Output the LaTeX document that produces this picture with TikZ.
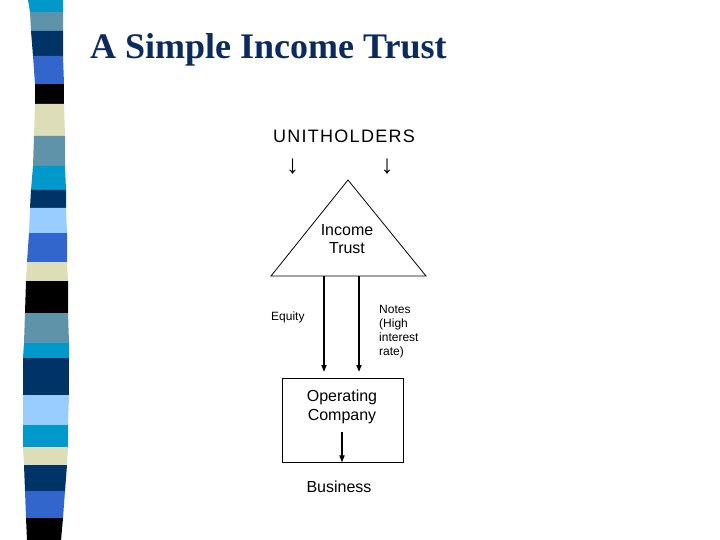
\documentclass[tikz,border=0pt]{standalone}
\usepackage{fontspec}
\setmainfont{Liberation Serif}
\newfontfamily\arialf{Liberation Sans}
\usetikzlibrary{arrows.meta}
\definecolor{stcyan}{HTML}{0099CC}
\definecolor{ststeel}{HTML}{5F93AA}
\definecolor{stnavy}{HTML}{003366}
\definecolor{stroyal}{HTML}{3366CC}
\definecolor{stbeige}{HTML}{DDDDB8}
\definecolor{stlight}{HTML}{99CCFF}
\definecolor{titlecol}{HTML}{0B2B5E}
\tikzset{
  lbl/.style={font=\arialf\fontsize{16}{18.5}\selectfont, inner sep=0pt, align=center},
  small/.style={font=\arialf\fontsize{12}{14}\selectfont, inner sep=0pt, align=left},
  downglyph/.style={inner sep=0pt, font=\arialf\fontsize{26}{28}\selectfont},
  conn/.style={line width=1.6pt, -{Triangle[length=7pt,width=5pt]}},
  thin/.style={line width=0.8pt}
}
\begin{document}
\begin{tikzpicture}[x=1pt,y=-1pt]
\useasboundingbox (0,0) rectangle (720,540);
\fill[white] (0,0) rectangle (720,540);
% left stripe
\foreach \ya/\la/\ra/\yb/\lb/\rb/\c in {
  0/28/63/12/30/63/stcyan,
  12/30/63/31/31/63/ststeel,
  31/31/63/56/33/63/stnavy,
  56/33/63/84/35/64/stroyal,
  84/35/64/104/35/64/black,
  104/35/64/136/34/65/stbeige,
  136/34/65/166/33/65/ststeel,
  166/33/65/190/31/66/stcyan,
  190/31/66/208/30/66/stnavy,
  208/30/66/233/29/67/stlight,
  233/29/67/262/27/67/stroyal,
  262/27/67/281/26/68/stbeige,
  281/26/68/313/25/68/black,
  313/25/68/343/24/69/ststeel,
  343/24/69/358/23/69/stcyan,
  358/23/69/395/23/69/stnavy,
  395/23/69/425/23/68/stlight,
  425/23/68/447/23/68/stcyan,
  447/23/68/465/24/67/stbeige,
  465/24/67/491/25/65/stnavy,
  491/25/65/518/26/63/stroyal,
  518/26/63/540/27/61/black}
  {\fill[\c] (\la,\ya) -- (\ra,\ya) -- (\rb,\yb) -- (\lb,\yb) -- cycle;}
% title
\node[anchor=base west, inner sep=0pt, text=titlecol,
      font=\bfseries\fontsize{36}{40}\selectfont] (title) at (90,59) {A Simple Income Trust};
% unitholders
\node[anchor=base, inner sep=0pt, font=\arialf\fontsize{18}{20}\selectfont\addfontfeature{LetterSpace=7}] (unit) at (344,143) {UNITHOLDERS};
\node[downglyph] (arrl) at (292.5,167) {↓};
\node[downglyph] (arrr) at (387,167) {↓};
% triangle
\coordinate (apex) at (348,180);
\coordinate (bl) at (271,276);
\coordinate (br) at (426,276);
\draw[thin] (apex) -- (bl) -- (br) -- cycle;
\node[lbl] (trust) at (347,239) {Income\\Trust};
% operating company box
\node[draw, thin, minimum width=121pt, minimum height=84pt, inner sep=0pt] (opco) at (342.5,420) {};
\node[lbl] (optext) at (342,407) {Operating\\Company};
% arrows
\coordinate (eqs) at (324,276);
\coordinate (nts) at (359,276);
\draw[conn] (eqs) -- ++(0,96);
\draw[conn] (nts) -- ++(0,96);
\coordinate (bizs) at (342,432);
\draw[conn] (bizs) -- (bizs |- opco.south);
% labels
\node[small, anchor=base west] (equity) at (271,320) {Equity};
\node[small, anchor=west] (notes) at (379,332) {Notes\\(High\\interest\\rate)};
\node[lbl, anchor=base] (biz) at (339,492) {Business};
\end{tikzpicture}
\end{document}
